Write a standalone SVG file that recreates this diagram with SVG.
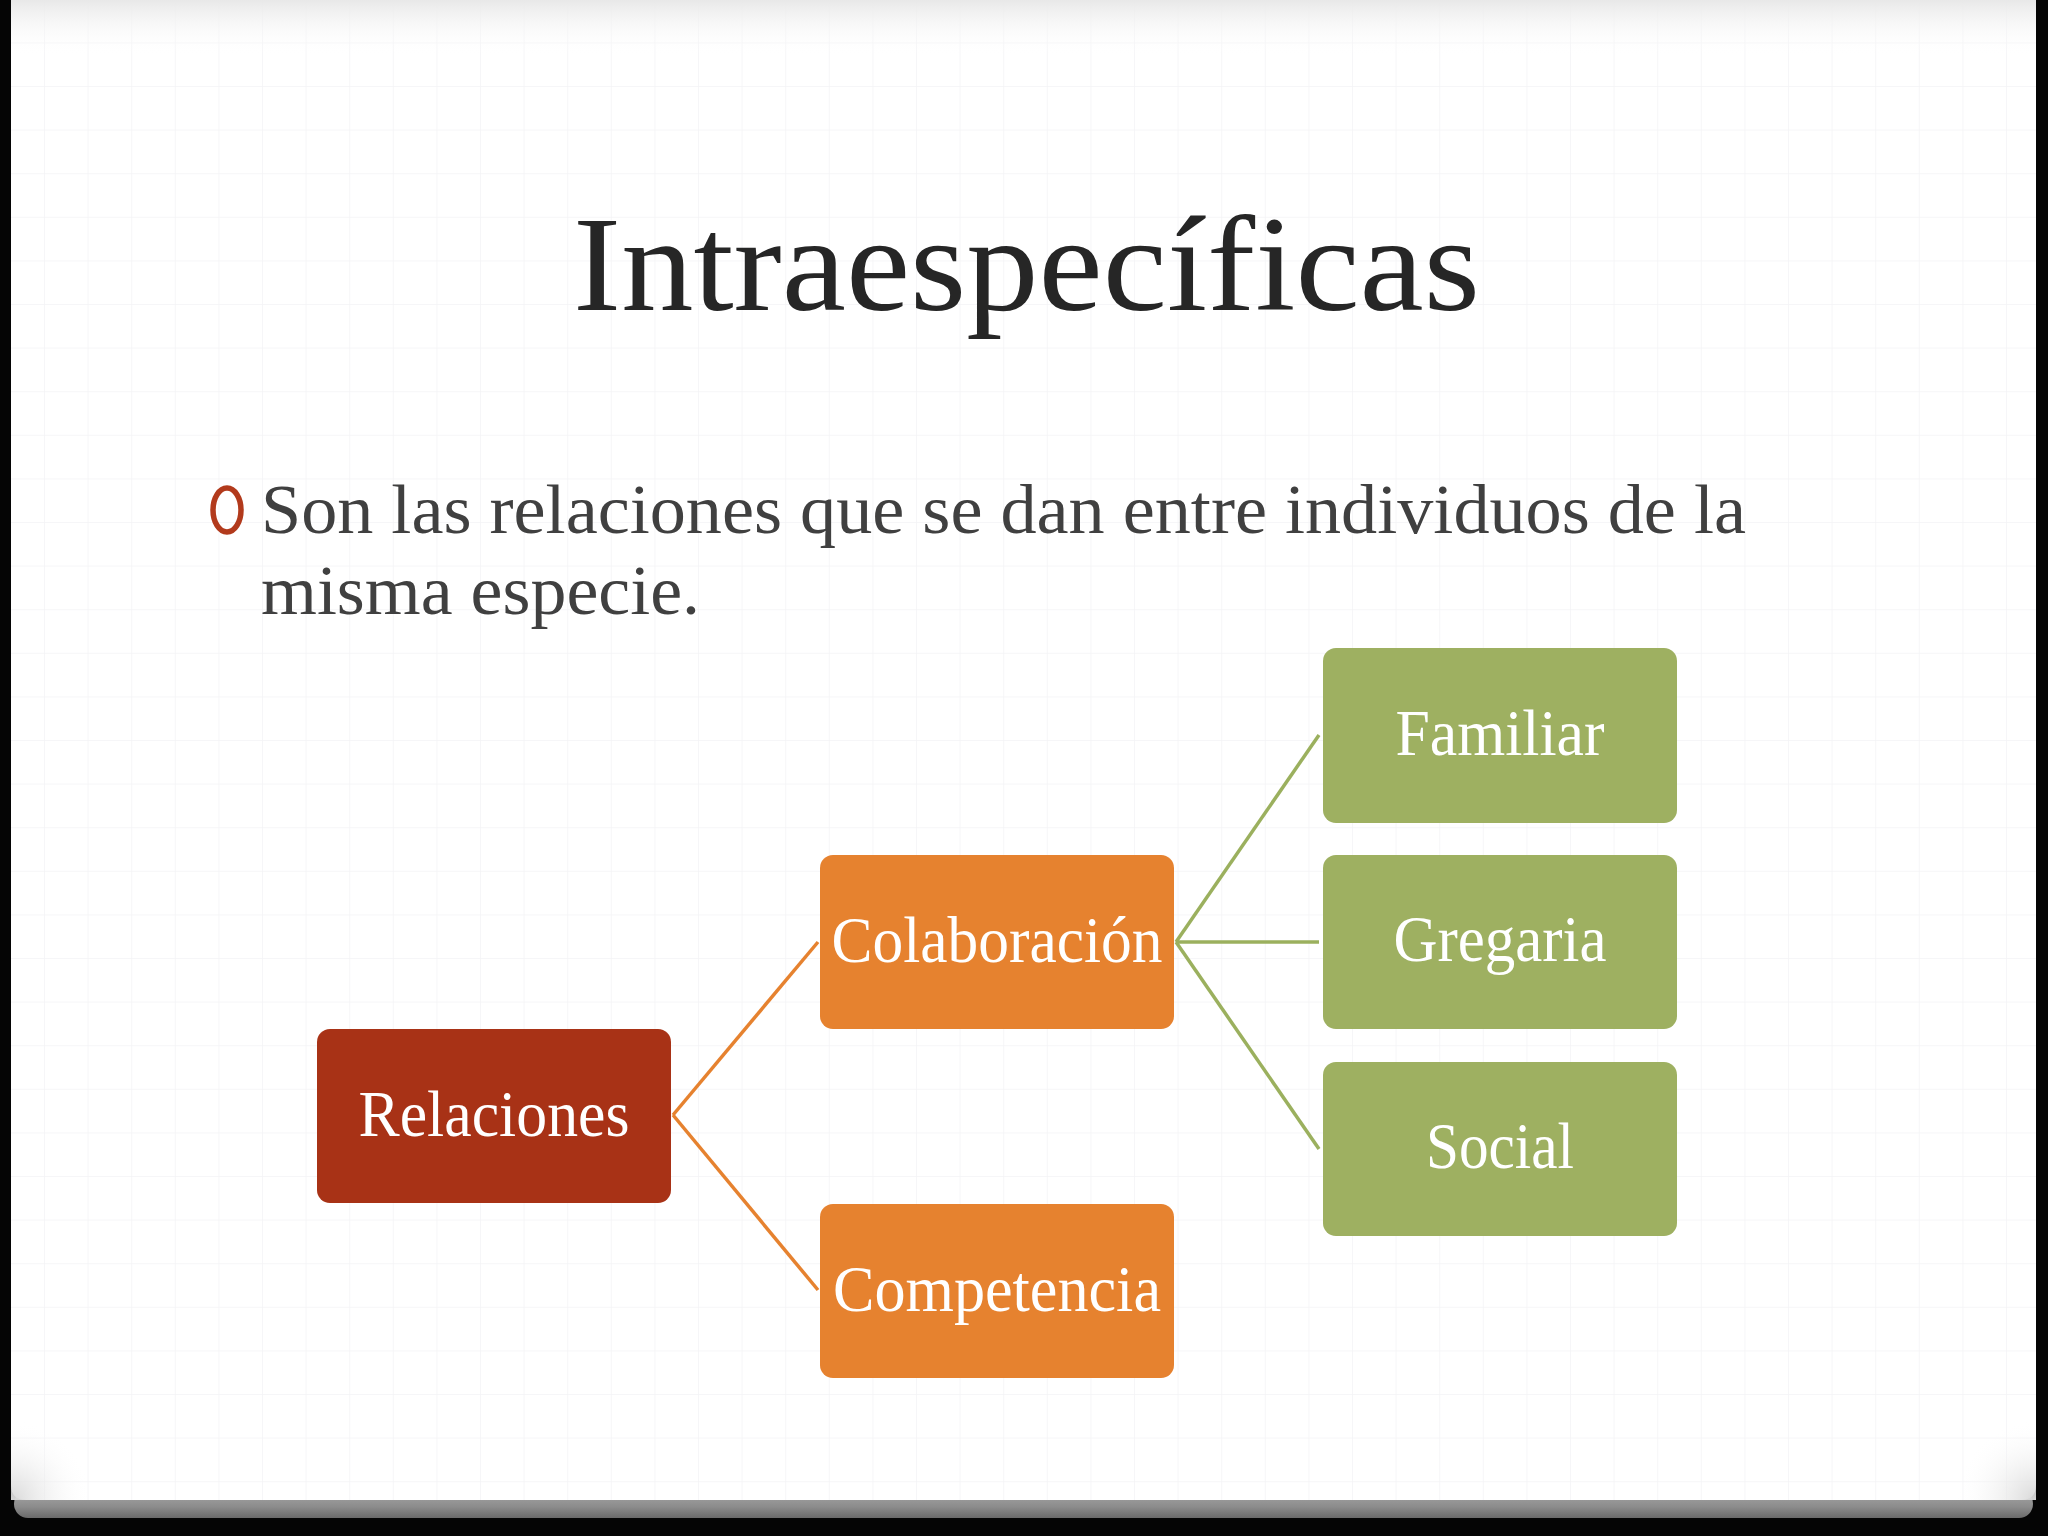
<svg xmlns="http://www.w3.org/2000/svg" width="2048" height="1536" viewBox="0 0 2048 1536">
  <defs>
    <pattern id="grid" patternUnits="userSpaceOnUse" x="0.4" y="-1.2" width="43.6" height="43.6">
      <path d="M0 0 V43.6 M0 0 H43.6" fill="none" stroke="#f4f4f6" stroke-width="1.5"/>
    </pattern>
    <linearGradient id="topShade" x1="0" y1="0" x2="0" y2="1">
      <stop offset="0" stop-color="#e8e8e8" stop-opacity="1"/>
      <stop offset="1" stop-color="#ffffff" stop-opacity="0"/>
    </linearGradient>
    <radialGradient id="cornerL" cx="0" cy="1" r="1">
      <stop offset="0" stop-color="#d8d8d8"/>
      <stop offset="1" stop-color="#ffffff" stop-opacity="0"/>
    </radialGradient>
    <radialGradient id="cornerR" cx="1" cy="1" r="1">
      <stop offset="0" stop-color="#d8d8d8"/>
      <stop offset="1" stop-color="#ffffff" stop-opacity="0"/>
    </radialGradient>
    <linearGradient id="strip" x1="0" y1="0" x2="0" y2="1">
      <stop offset="0" stop-color="#c4c4c4"/>
      <stop offset="0.3" stop-color="#9a9a9a"/>
      <stop offset="0.6" stop-color="#8c8c8c"/>
      <stop offset="1" stop-color="#6a6a6a"/>
    </linearGradient>
  </defs>
  <style>
    .title { font-family: "Liberation Serif", "DejaVu Serif", serif; font-size: 136px; fill: #262626; }
    .body { font-family: "Liberation Serif", "DejaVu Serif", serif; font-size: 70px; fill: #404040; }
    .lbl { font-family: "Liberation Serif", "DejaVu Serif", serif; font-size: 66px; fill: #ffffff; text-anchor: middle; }
    .red { fill: #a83216; }
    .orange { fill: #e6822f; }
    .green { fill: #9eb061; }
    .eo { stroke: #e6822f; stroke-width: 3.5; fill: none; }
    .eg { stroke: #9bb05e; stroke-width: 3.5; fill: none; }
  </style>

  <!-- frame -->
  <rect x="0" y="0" width="2048" height="1536" fill="#050505"/>
  <rect x="14" y="1490" width="2019" height="28" rx="14" fill="url(#strip)"/>
  <path d="M11 0 H2036 V1485 Q2036 1500 2021 1500 H26 Q11 1500 11 1485 Z" fill="#ffffff"/>
  <rect x="11" y="0" width="2025" height="1500" fill="url(#grid)"/>
  <rect x="11" y="0" width="2025" height="55" fill="url(#topShade)"/>
  <rect x="11" y="1420" width="80" height="80" fill="url(#cornerL)"/>
  <rect x="1956" y="1420" width="80" height="80" fill="url(#cornerR)"/>

  <!-- title and text -->
  <text class="title" x="573" y="310" textLength="907" lengthAdjust="spacingAndGlyphs">Intraespecíficas</text>
  <ellipse cx="227" cy="510" rx="14" ry="22" fill="none" stroke="#b23a1c" stroke-width="5.5"/>
  <text class="body" x="261" y="533" textLength="1485" lengthAdjust="spacingAndGlyphs">Son las relaciones que se dan entre individuos de la</text>
  <text class="body" x="261" y="614" textLength="439" lengthAdjust="spacingAndGlyphs">misma especie.</text>

  <!-- connectors -->
  <g id="connectors">
    <path class="eo" d="M673 1115 L818 942"/>
    <path class="eo" d="M673 1115 L818 1290"/>
    <path class="eg" d="M1176 942 L1319 735"/>
    <path class="eg" d="M1176 942 L1319 942"/>
    <path class="eg" d="M1176 942 L1319 1149"/>
  </g>

  <!-- nodes -->
  <g id="relaciones">
    <rect class="red" x="317" y="1029" width="354" height="174" rx="13"/>
    <text class="lbl" x="494" y="1136" textLength="271" lengthAdjust="spacingAndGlyphs">Relaciones</text>
  </g>
  <g id="colaboracion">
    <rect class="orange" x="820" y="855" width="354" height="174" rx="13"/>
    <text class="lbl" x="997" y="962" textLength="331" lengthAdjust="spacingAndGlyphs">Colaboración</text>
  </g>
  <g id="competencia">
    <rect class="orange" x="820" y="1204" width="354" height="174" rx="13"/>
    <text class="lbl" x="997" y="1311" textLength="328" lengthAdjust="spacingAndGlyphs">Competencia</text>
  </g>
  <g id="familiar">
    <rect class="green" x="1323" y="648" width="354" height="175" rx="13"/>
    <text class="lbl" x="1500" y="755" textLength="209" lengthAdjust="spacingAndGlyphs">Familiar</text>
  </g>
  <g id="gregaria">
    <rect class="green" x="1323" y="855" width="354" height="174" rx="13"/>
    <text class="lbl" x="1500" y="961" textLength="213" lengthAdjust="spacingAndGlyphs">Gregaria</text>
  </g>
  <g id="social">
    <rect class="green" x="1323" y="1062" width="354" height="174" rx="13"/>
    <text class="lbl" x="1500" y="1168" textLength="148" lengthAdjust="spacingAndGlyphs">Social</text>
  </g>
</svg>
